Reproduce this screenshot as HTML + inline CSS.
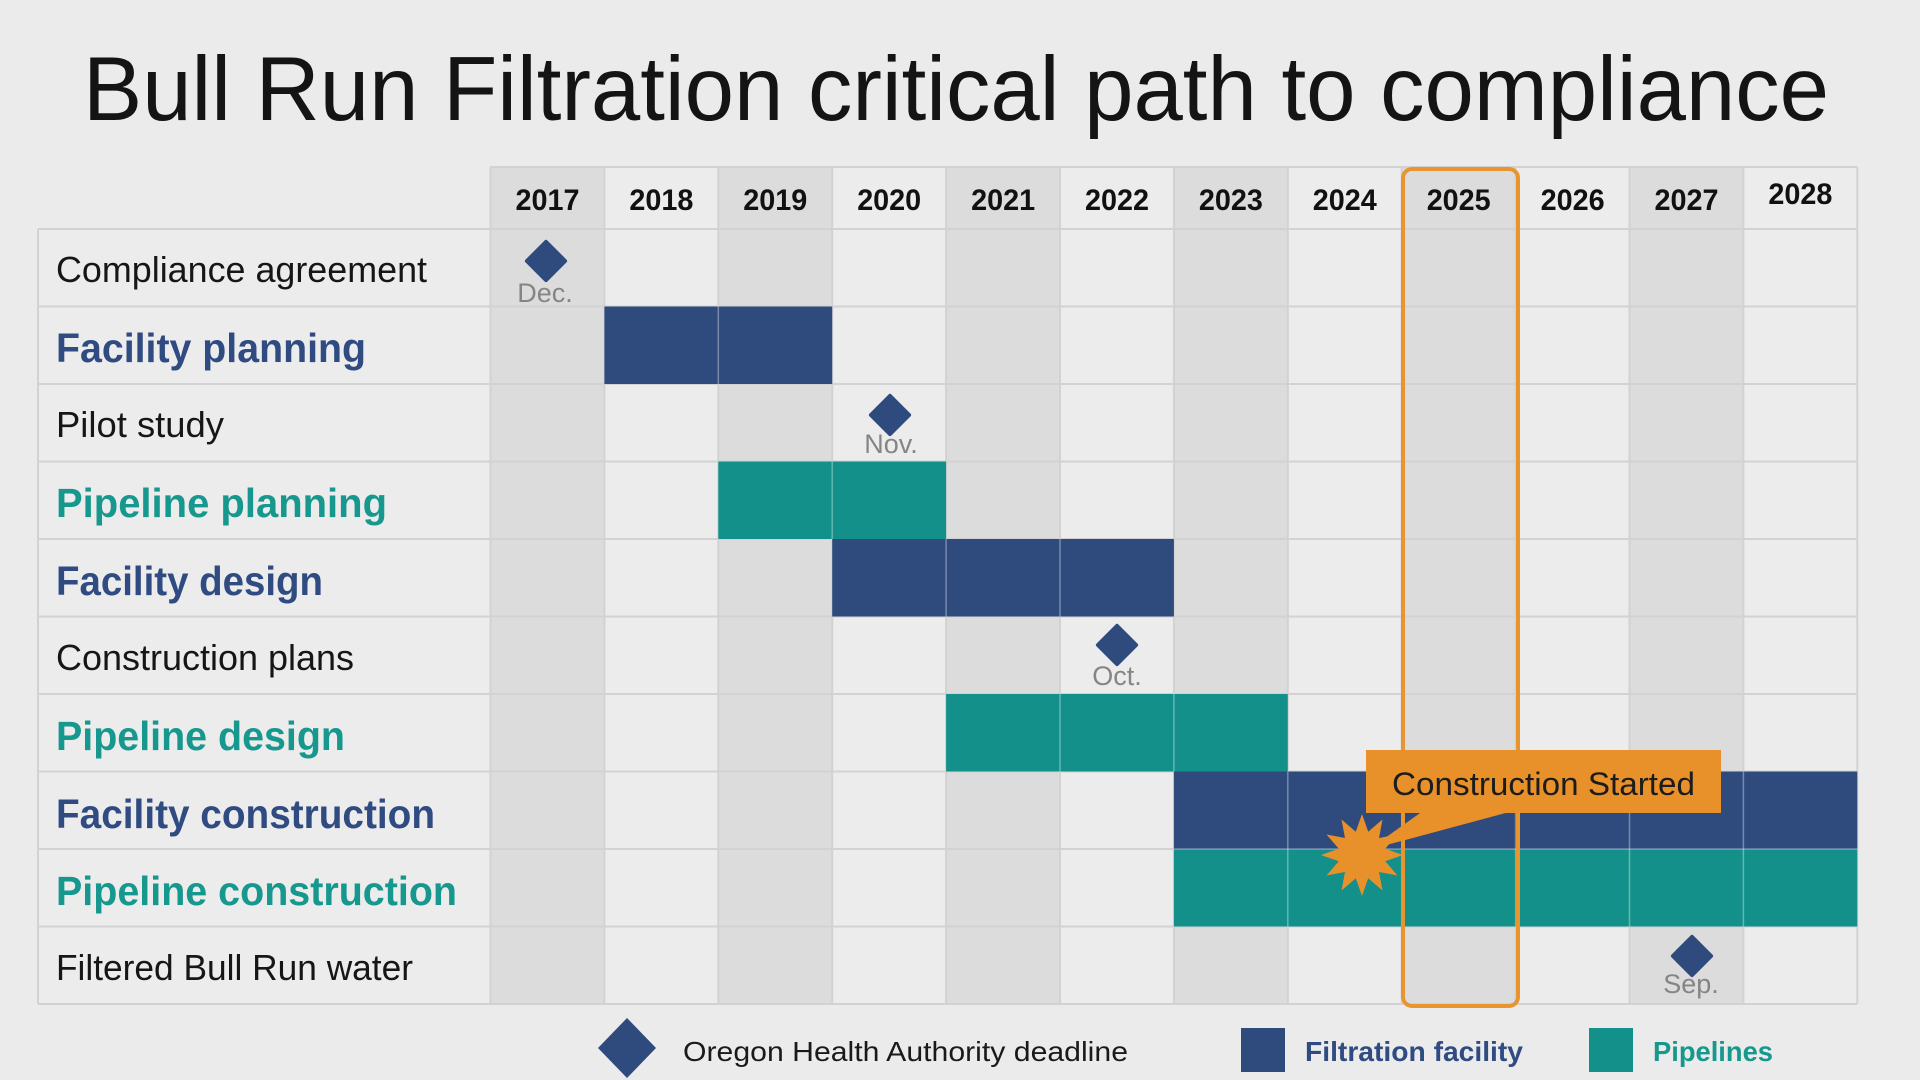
<!DOCTYPE html>
<html>
<head>
<meta charset="utf-8">
<style>
  html, body { margin: 0; padding: 0; background: #ebebeb; }
  svg { display: block; }
  text { font-family: "Liberation Sans", "DejaVu Sans", sans-serif; }
</style>
</head>
<body>
<svg width="1920" height="1080" viewBox="0 0 1920 1080" xmlns="http://www.w3.org/2000/svg">
  <rect x="0" y="0" width="1920" height="1080" fill="#ebebeb"/>

  <!-- Title -->
  <text x="83" y="120" font-size="91" fill="#141414" textLength="1746" lengthAdjust="spacingAndGlyphs">Bull Run Filtration critical path to compliance</text>

  <!-- label column -->
  <rect x="38" y="229" width="452.5" height="775" fill="#ececec"/>

  <!-- year columns (alternating) -->
  <g>
    <rect x="490.5" y="167" width="113.9" height="837" fill="#dcdcdc"/>
    <rect x="604.4" y="167" width="113.9" height="837" fill="#ececec"/>
    <rect x="718.3" y="167" width="113.9" height="837" fill="#dcdcdc"/>
    <rect x="832.2" y="167" width="113.9" height="837" fill="#ececec"/>
    <rect x="946.1" y="167" width="113.9" height="837" fill="#dcdcdc"/>
    <rect x="1060" y="167" width="113.9" height="837" fill="#ececec"/>
    <rect x="1173.9" y="167" width="113.9" height="837" fill="#dcdcdc"/>
    <rect x="1287.8" y="167" width="113.9" height="837" fill="#ececec"/>
    <rect x="1401.7" y="167" width="113.9" height="837" fill="#dcdcdc"/>
    <rect x="1515.6" y="167" width="113.9" height="837" fill="#ececec"/>
    <rect x="1629.5" y="167" width="113.9" height="837" fill="#dcdcdc"/>
    <rect x="1743.4" y="167" width="113.9" height="837" fill="#ececec"/>
  </g>

  <!-- grid lines -->
  <g stroke="#d2d2d2" stroke-width="2">
    <line x1="490.5" y1="167" x2="1857.3" y2="167"/>
    <line x1="38" y1="229" x2="1857.3" y2="229"/>
    <line x1="38" y1="306.5" x2="1857.3" y2="306.5"/>
    <line x1="38" y1="384" x2="1857.3" y2="384"/>
    <line x1="38" y1="461.5" x2="1857.3" y2="461.5"/>
    <line x1="38" y1="539" x2="1857.3" y2="539"/>
    <line x1="38" y1="616.5" x2="1857.3" y2="616.5"/>
    <line x1="38" y1="694" x2="1857.3" y2="694"/>
    <line x1="38" y1="771.5" x2="1857.3" y2="771.5"/>
    <line x1="38" y1="849" x2="1857.3" y2="849"/>
    <line x1="38" y1="926.5" x2="1857.3" y2="926.5"/>
    <line x1="38" y1="1004" x2="1857.3" y2="1004"/>
    <line x1="38" y1="229" x2="38" y2="1004"/>
    <line x1="490.5" y1="167" x2="490.5" y2="1004"/>
    <line x1="604.4" y1="167" x2="604.4" y2="1004"/>
    <line x1="718.3" y1="167" x2="718.3" y2="1004"/>
    <line x1="832.2" y1="167" x2="832.2" y2="1004"/>
    <line x1="946.1" y1="167" x2="946.1" y2="1004"/>
    <line x1="1060" y1="167" x2="1060" y2="1004"/>
    <line x1="1173.9" y1="167" x2="1173.9" y2="1004"/>
    <line x1="1287.8" y1="167" x2="1287.8" y2="1004"/>
    <line x1="1401.7" y1="167" x2="1401.7" y2="1004"/>
    <line x1="1515.6" y1="167" x2="1515.6" y2="1004"/>
    <line x1="1629.5" y1="167" x2="1629.5" y2="1004"/>
    <line x1="1743.4" y1="167" x2="1743.4" y2="1004"/>
    <line x1="1857.3" y1="167" x2="1857.3" y2="1004"/>
  </g>

  <!-- bars -->
  <g fill="#2f4b7e">
    <rect x="604.4" y="306.5" width="227.8" height="77.5"/>
    <rect x="832.2" y="539" width="341.7" height="77.5"/>
    <rect x="1173.9" y="771.5" width="683.4" height="77.5"/>
  </g>
  <g fill="#13908a">
    <rect x="718.3" y="461.5" width="227.8" height="77.5"/>
    <rect x="946.1" y="694" width="341.7" height="77.5"/>
    <rect x="1173.9" y="849" width="683.4" height="77.5"/>
  </g>
  <!-- faint cell dividers over bars -->
  <g stroke="#ffffff" stroke-opacity="0.35" stroke-width="1.5">
    <line x1="718.3" y1="306.5" x2="718.3" y2="384"/>
    <line x1="832.2" y1="461.5" x2="832.2" y2="539"/>
    <line x1="946.1" y1="539" x2="946.1" y2="616.5"/>
    <line x1="1060" y1="539" x2="1060" y2="616.5"/>
    <line x1="1060" y1="694" x2="1060" y2="771.5"/>
    <line x1="1173.9" y1="694" x2="1173.9" y2="771.5"/>
    <line x1="1287.8" y1="771.5" x2="1287.8" y2="926.5"/>
    <line x1="1401.7" y1="771.5" x2="1401.7" y2="926.5"/>
    <line x1="1515.6" y1="771.5" x2="1515.6" y2="926.5"/>
    <line x1="1629.5" y1="771.5" x2="1629.5" y2="926.5"/>
    <line x1="1743.4" y1="771.5" x2="1743.4" y2="926.5"/>
    <line x1="1173.9" y1="849" x2="1857.3" y2="849"/>
  </g>

  <!-- year headers -->
  <g font-size="30" font-weight="bold" fill="#111" text-anchor="middle">
    <text x="547.5" y="210" textLength="64" lengthAdjust="spacingAndGlyphs">2017</text>
    <text x="661.4" y="210" textLength="64" lengthAdjust="spacingAndGlyphs">2018</text>
    <text x="775.3" y="210" textLength="64" lengthAdjust="spacingAndGlyphs">2019</text>
    <text x="889.2" y="210" textLength="64" lengthAdjust="spacingAndGlyphs">2020</text>
    <text x="1003.1" y="210" textLength="64" lengthAdjust="spacingAndGlyphs">2021</text>
    <text x="1117" y="210" textLength="64" lengthAdjust="spacingAndGlyphs">2022</text>
    <text x="1230.9" y="210" textLength="64" lengthAdjust="spacingAndGlyphs">2023</text>
    <text x="1344.8" y="210" textLength="64" lengthAdjust="spacingAndGlyphs">2024</text>
    <text x="1458.7" y="210" textLength="64" lengthAdjust="spacingAndGlyphs">2025</text>
    <text x="1572.6" y="210" textLength="64" lengthAdjust="spacingAndGlyphs">2026</text>
    <text x="1686.5" y="210" textLength="64" lengthAdjust="spacingAndGlyphs">2027</text>
    <text x="1800.4" y="204" textLength="64" lengthAdjust="spacingAndGlyphs">2028</text>
  </g>

  <!-- row labels -->
  <g font-size="36" fill="#161616">
    <text x="56" y="282" textLength="371" lengthAdjust="spacingAndGlyphs">Compliance agreement</text>
    <text x="56" y="437" textLength="168" lengthAdjust="spacingAndGlyphs">Pilot study</text>
    <text x="56" y="670" textLength="298" lengthAdjust="spacingAndGlyphs">Construction plans</text>
    <text x="56" y="980" textLength="357" lengthAdjust="spacingAndGlyphs">Filtered Bull Run water</text>
  </g>
  <g font-size="41" font-weight="bold">
    <text x="56" y="362" fill="#2f4b82" textLength="310" lengthAdjust="spacingAndGlyphs">Facility planning</text>
    <text x="56" y="517" fill="#17988e" textLength="331" lengthAdjust="spacingAndGlyphs">Pipeline planning</text>
    <text x="56" y="595" fill="#2f4b82" textLength="267" lengthAdjust="spacingAndGlyphs">Facility design</text>
    <text x="56" y="750" fill="#17988e" textLength="289" lengthAdjust="spacingAndGlyphs">Pipeline design</text>
    <text x="56" y="828" fill="#2f4b82" textLength="379" lengthAdjust="spacingAndGlyphs">Facility construction</text>
    <text x="56" y="905" fill="#17988e" textLength="401" lengthAdjust="spacingAndGlyphs">Pipeline construction</text>
  </g>

  <!-- milestone diamonds -->
  <g fill="#2f4b7e">
    <rect x="-15.5" y="-15.5" width="31" height="31" rx="2" transform="translate(546,261) rotate(45)"/>
    <rect x="-15.5" y="-15.5" width="31" height="31" rx="2" transform="translate(890,415) rotate(45)"/>
    <rect x="-15.5" y="-15.5" width="31" height="31" rx="2" transform="translate(1117,645) rotate(45)"/>
    <rect x="-15.5" y="-15.5" width="31" height="31" rx="2" transform="translate(1692,956) rotate(45)"/>
  </g>
  <g font-size="27" fill="#858585" text-anchor="middle">
    <text x="545" y="302">Dec.</text>
    <text x="891" y="453">Nov.</text>
    <text x="1117" y="685">Oct.</text>
    <text x="1691" y="993">Sep.</text>
  </g>

  <!-- 2025 highlight frame -->
  <rect x="1403" y="169" width="115" height="837" rx="9" ry="9" fill="none" stroke="#e8952f" stroke-width="4"/>

  <!-- callout -->
  <polygon fill="#e8912b" points="1362,814 1368.2,831.8 1382.5,819.5 1379,838 1397.5,834.5 1385.2,848.8 1403,855 1385.2,861.2 1397.5,875.5 1379,872 1382.5,890.5 1368.2,878.2 1362,896 1355.8,878.2 1341.5,890.5 1345,872 1326.5,875.5 1338.8,861.2 1321,855 1338.8,848.8 1326.5,834.5 1345,838 1341.5,819.5 1355.8,831.8"/>
  <polygon fill="#e8912b" points="1423,811 1513,811 1368,850"/>
  <rect x="1366" y="750" width="355" height="63" fill="#e8912b"/>
  <text x="1543.5" y="795" font-size="32" fill="#1c1c1c" text-anchor="middle" textLength="303" lengthAdjust="spacingAndGlyphs">Construction Started</text>

  <!-- legend -->
  <polygon fill="#2f4b7e" points="627,1018 656,1048 627,1078 598,1048"/>
  <text x="683" y="1061" font-size="28" fill="#1a1a1a" textLength="445" lengthAdjust="spacingAndGlyphs">Oregon Health Authority deadline</text>
  <rect x="1241" y="1028" width="44" height="44" fill="#2f4b7e"/>
  <text x="1305" y="1061" font-size="28" font-weight="bold" fill="#2f4b82" textLength="218" lengthAdjust="spacingAndGlyphs">Filtration facility</text>
  <rect x="1589" y="1028" width="44" height="44" fill="#13908a"/>
  <text x="1653" y="1061" font-size="28" font-weight="bold" fill="#17988e" textLength="120" lengthAdjust="spacingAndGlyphs">Pipelines</text>
</svg>
</body>
</html>
